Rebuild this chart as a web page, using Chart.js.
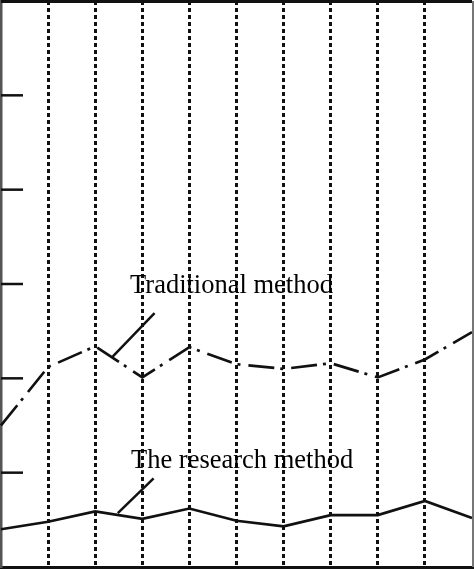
<!DOCTYPE html>
<html>
<head>
<meta charset="utf-8">
<script src="https://cdn.jsdelivr.net/npm/chart.js@4.4.1/dist/chart.umd.min.js"></script>
<style>
  body { margin: 0; background: #fff; }
  #wrap { width: 474px; height: 569px; }
</style>
</head>
<body>
<div id="wrap"><canvas id="methodChart" width="474" height="569"></canvas></div>
<script>
/* Data */
let labels = ["1", "2", "3", "4", "5", "6", "7", "8", "9", "10", "11"];
let traditional = [1.50, 2.12, 2.34, 2.01, 2.33, 2.15, 2.10, 2.16, 2.01, 2.20, 2.49];
let research = [0.40, 0.48, 0.59, 0.51, 0.62, 0.49, 0.43, 0.55, 0.55, 0.70, 0.52];
let yTicks = [1, 2, 3, 4, 5];

/* Callout labels (data units: x index, y value) */
let callouts = [
    { text: "Traditional method", at: [2.74, 2.90], from: [2.35, 2.22], to: [3.26, 2.69] },
    { text: "The research method", at: [2.76, 1.05], from: [2.48, 0.57], to: [3.24, 0.94] }
];

/* Frame, inward ticks and callouts */
const framePlugin = {
    id: "frame",
    afterDraw(chart) {
        const ctx = chart.ctx;
        const area = chart.chartArea;
        const x = chart.scales.x;
        const y = chart.scales.y;
        ctx.save();

        // top and right edges
        ctx.lineWidth = 3;
        ctx.strokeStyle = "#111";
        ctx.beginPath();
        ctx.moveTo(area.left, area.top + 0.5);
        ctx.lineTo(area.right, area.top + 0.5);
        ctx.stroke();
        ctx.lineWidth = 2;
        ctx.strokeStyle = "#777";
        ctx.beginPath();
        ctx.moveTo(area.right + 1, area.top);
        ctx.lineTo(area.right + 1, area.bottom);
        ctx.stroke();

        // ticks pointing into the plot
        ctx.lineWidth = 2.5;
        ctx.strokeStyle = "#111";
        yTicks.forEach(function (v) {
            let py = y.getPixelForValue(v);
            ctx.beginPath();
            ctx.moveTo(area.left, py);
            ctx.lineTo(area.left + 22, py);
            ctx.stroke();
        });

        // callouts
        ctx.lineWidth = 2.5;
        ctx.fillStyle = "#000";
        ctx.font = "26.5px 'Liberation Serif', 'Times New Roman', serif";
        ctx.textBaseline = "alphabetic";
        callouts.forEach(function (c) {
            ctx.beginPath();
            ctx.moveTo(x.getPixelForValue(c.from[0]), y.getPixelForValue(c.from[1]));
            ctx.lineTo(x.getPixelForValue(c.to[0]), y.getPixelForValue(c.to[1]));
            ctx.stroke();
            ctx.fillText(c.text, x.getPixelForValue(c.at[0]), y.getPixelForValue(c.at[1]));
        });
        ctx.restore();
    }
};

new Chart("methodChart", {
    type: "line",
    data: {
        labels: labels,
        datasets: [{
            label: "Traditional method",
            data: traditional,
            borderColor: "#111",
            borderWidth: 2.7,
            borderDash: [26, 6, 3, 8],
            pointRadius: 0,
            tension: 0,
            fill: false
        }, {
            label: "The research method",
            data: research,
            borderColor: "#111",
            borderWidth: 2.7,
            pointRadius: 0,
            tension: 0,
            fill: false
        }]
    },
    options: {
        responsive: false,
        animation: false,
        layout: { padding: { left: 1, right: 2, top: 1, bottom: 2 } },
        plugins: {
            legend: { display: false },
            tooltip: { enabled: false }
        },
        scales: {
            x: {
                offset: false,
                ticks: { display: false },
                grid: {
                    drawTicks: false,
                    lineWidth: 3,
                    color: function (c) {
                        return (c.index === 0 || c.index === labels.length - 1) ? "rgba(0,0,0,0)" : "#111";
                    }
                },
                border: { display: true, color: "#111", width: 3, dash: [4, 3] }
            },
            y: {
                min: 0,
                max: 6,
                ticks: { display: false, stepSize: 1 },
                grid: { display: false, drawTicks: false },
                border: { display: true, color: "#555", width: 2.5 }
            }
        }
    },
    plugins: [framePlugin]
});
</script>
</body>
</html>
